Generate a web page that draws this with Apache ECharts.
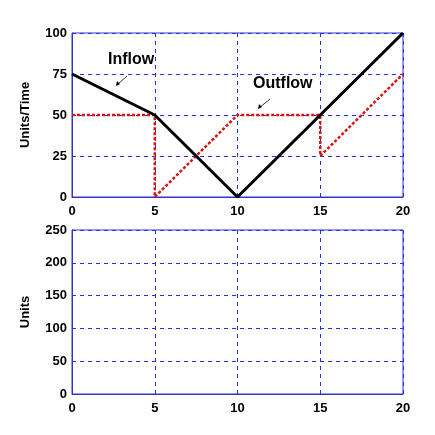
<!DOCTYPE html><html><head><meta charset="utf-8"><script src="https://cdn.jsdelivr.net/npm/echarts@6/dist/echarts.min.js"></script></head><body style="margin:0"><div id="c" style="width:435px;height:435px"></div><script>
const inflowX=[0,5,10,20], inflowY=[75,50,0,100];
const outflowX=[0,5,5,10,15,15,20], outflowY=[50,50,0,50,50,25,75];
const topTicks=[0,25,50,75,100], bottomTicks=[0,50,100,150,200,250], xTicks=[0,5,10,15,20];
const grid=(t)=>({left:72,width:331,top:t,height:164,show:true,borderColor:'#3333cc',borderWidth:1});
const split=()=>({show:true,lineStyle:{color:'#2233dd',type:[4,4],width:1}});
const lab=()=>({color:'#000',fontWeight:'bold',fontSize:13,fontFamily:'Liberation Sans'});
const xa=(i)=>({type:'value',gridIndex:i,min:0,max:20,interval:5,axisLine:{lineStyle:{color:'#3333cc'}},axisTick:{show:false},splitLine:split(),axisLabel:lab()});
const ya=(i,max,intv,name)=>({type:'value',gridIndex:i,min:0,max:max,interval:intv,name:name,nameLocation:'middle',nameGap:40,nameTextStyle:lab(),axisLine:{lineStyle:{color:'#3333cc'}},axisTick:{show:false},splitLine:split(),axisLabel:{...lab(),margin:5}});
const arrow=(x1,y1,x2,y2)=>({type:'line',shape:{x1,y1,x2,y2},style:{stroke:'#000',lineWidth:0.8}});
const head=(x,y)=>({type:'polygon',shape:{points:[[x,y],[x+1,y-5],[x+4,y-2]]},style:{fill:'#000'}});
echarts.init(document.getElementById('c')).setOption({animation:false,
grid:[grid(33),grid(230)],
xAxis:[xa(0),xa(1)],
yAxis:[ya(0,100,25,'Units/Time'),ya(1,250,50,'Units')],
series:[
{type:'line',xAxisIndex:0,yAxisIndex:0,data:outflowX.map((x,i)=>[x,outflowY[i]]),symbol:'none',lineStyle:{color:'#dd1111',width:2.5,type:[3,2]}},
{type:'line',xAxisIndex:0,yAxisIndex:0,data:inflowX.map((x,i)=>[x,inflowY[i]]),symbol:'none',lineStyle:{color:'#000',width:3}},
{type:'line',xAxisIndex:1,yAxisIndex:1,data:[]}
],
graphic:[
{type:'text',left:108,top:52,style:{text:'Inflow',font:'bold 16px Liberation Sans',fill:'#000'}},
{type:'text',left:253,top:76,style:{text:'Outflow',font:'bold 16px Liberation Sans',fill:'#000'}},
arrow(127,76,117,85),head(116,86),
arrow(270,99,259,108),head(258,109)
]});
</script></body></html>
